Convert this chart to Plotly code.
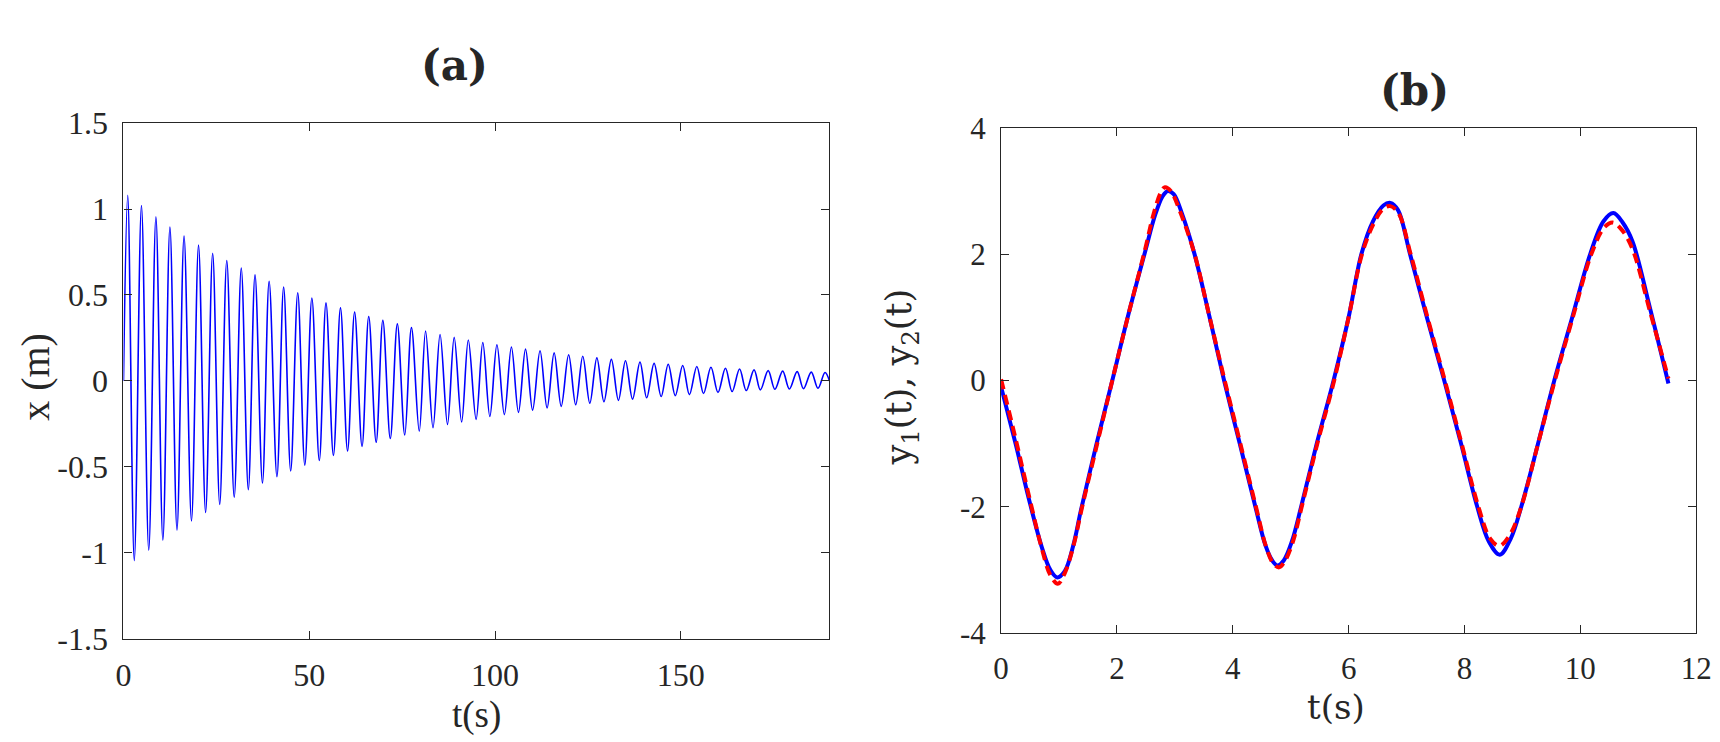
import plotly.graph_objects as go

# ----------------------------------------------------------------------
#  Panel (a): decaying oscillation x(t) -- extrema
PEAK_T = [1.14, 4.84, 8.73, 12.5, 16.3, 20.2, 24.0, 27.8, 31.7, 35.4,
          39.2, 43.1, 46.9, 50.7, 54.5, 58.4, 62.2, 66.0, 69.8, 73.7,
          77.5, 81.3, 85.2, 89.0, 92.8, 96.7, 100.5, 104.4, 108.2, 112.1,
          115.9, 119.8, 123.6, 127.4, 131.3, 135.1, 139.0, 142.8, 146.6, 150.5,
          154.3, 158.1, 162.0, 165.8, 169.7, 173.5, 177.4, 181.3, 185.1, 188.8]
PEAK_X = [1.08, 1.02, 0.955, 0.895, 0.842, 0.79, 0.743, 0.70, 0.657, 0.617,
          0.58, 0.546, 0.513, 0.482, 0.454, 0.425, 0.40, 0.375, 0.353, 0.332,
          0.31, 0.29, 0.27, 0.253, 0.238, 0.223, 0.21, 0.197, 0.185, 0.175,
          0.163, 0.152, 0.143, 0.134, 0.125, 0.117, 0.109, 0.102, 0.097, 0.09,
          0.084, 0.079, 0.074, 0.069, 0.064, 0.06, 0.057, 0.054, 0.051, 0.049]
TROUGH_T = [2.91, 6.8, 10.6, 14.4, 18.3, 22.1, 25.9, 29.8, 33.6, 37.4,
            41.3, 45.0, 48.8, 52.7, 56.5, 60.3, 64.2, 68.0, 71.8, 75.7,
            79.6, 83.3, 87.2, 91.0, 94.9, 98.6, 102.5, 106.3, 110.1, 114.0,
            117.8, 121.7, 125.5, 129.3, 133.2, 137.0, 140.8, 144.7, 148.5, 152.3,
            156.1, 160.0, 163.8, 167.6, 171.4, 175.3, 179.2, 183.0, 186.9]
TROUGH_X = [-1.045, -0.985, -0.926, -0.867, -0.815, -0.765, -0.718, -0.676, -0.633, -0.594,
            -0.557, -0.524, -0.49, -0.463, -0.433, -0.407, -0.381, -0.357, -0.335, -0.315,
            -0.292, -0.272, -0.253, -0.239, -0.224, -0.207, -0.196, -0.183, -0.17, -0.157,
            -0.148, -0.139, -0.13, -0.121, -0.113, -0.106, -0.098, -0.091, -0.086, -0.08,
            -0.073, -0.067, -0.062, -0.056, -0.052, -0.049, -0.047, -0.045, -0.043]
A_START = (0.0, 0.0)
A_END = (190.0, 0.0)

# ----------------------------------------------------------------------
#  Panel (b): y1 (blue solid) and y2 (red dashed)
Y1_T = [0, 0.25, 0.5, 0.7, 0.85, 0.97, 1.1, 1.25, 1.38, 1.65, 1.92, 2.2, 2.49,
        2.66, 2.79, 2.88, 2.98, 3.12, 3.34, 3.6, 3.85, 4.12, 4.39, 4.56, 4.68,
        4.77, 4.88, 5.02, 5.18, 5.45, 5.74, 6.0, 6.22, 6.42, 6.6, 6.72, 6.85,
        7.06, 7.35, 7.65, 7.94, 8.22, 8.42, 8.61, 8.8, 8.98, 9.27, 9.55, 9.86,
        10.17, 10.4, 10.57, 10.73, 10.9, 11.2, 11.52]
Y1 = [-0.1, -1.0, -1.95, -2.63, -3.0, -3.12, -3.02, -2.6, -2.05, -1.0, 0.0, 1.05, 2.05,
      2.62, 2.92, 3.0, 2.95, 2.65, 2.0, 1.0, 0.0, -1.0, -2.0, -2.6, -2.85,
      -2.93, -2.85, -2.55, -2.0, -1.0, 0.0, 1.0, 2.0, 2.52, 2.77, 2.81, 2.7,
      2.0, 1.0, 0.0, -1.0, -2.0, -2.55, -2.76, -2.5, -2.0, -1.0, 0.0, 1.0,
      2.0, 2.52, 2.65, 2.5, 2.2, 1.15, -0.05]

Y2_T = [0, 0.25, 0.5, 0.7, 0.85, 0.98, 1.1, 1.25, 1.4, 1.66, 1.92, 2.2, 2.48,
        2.64, 2.76, 2.83, 2.93, 3.1, 3.34, 3.6, 3.86, 4.13, 4.4, 4.57, 4.7,
        4.8, 4.9, 5.04, 5.19, 5.46, 5.75, 6.0, 6.23, 6.44, 6.6, 6.72, 6.86,
        7.07, 7.36, 7.66, 7.95, 8.24, 8.44, 8.6, 8.78, 8.98, 9.27, 9.56, 9.87,
        10.19, 10.41, 10.56, 10.72, 10.9, 11.2, 11.52]
Y2 = [0.02, -0.92, -1.9, -2.65, -3.08, -3.22, -3.05, -2.62, -2.0, -1.0, 0.0, 1.05, 2.05,
      2.66, 2.98, 3.06, 3.0, 2.65, 2.0, 1.0, 0.0, -1.0, -2.0, -2.62, -2.9,
      -2.96, -2.86, -2.55, -2.0, -1.0, 0.0, 1.0, 2.0, 2.5, 2.72, 2.76, 2.65,
      2.0, 1.0, 0.0, -1.0, -2.0, -2.5, -2.62, -2.45, -2.0, -1.0, 0.0, 1.0,
      2.0, 2.42, 2.5, 2.38, 2.08, 1.1, 0.03]

# ticks (MATLAB-style hyphen minus)
A_XTICKS = [0, 50, 100, 150]
A_YTICKS = [-1.5, -1, -0.5, 0, 0.5, 1, 1.5]
A_YTEXT = ["-1.5", "-1", "-0.5", "0", "0.5", "1", "1.5"]
B_XTICKS = [0, 2, 4, 6, 8, 10, 12]
B_YTICKS = [-4, -2, 0, 2, 4]
B_YTEXT = ["-4", "-2", "0", "2", "4"]

W, H = 1720, 742
AXC = "#262626"
TICKFONT = "Liberation Serif"
LABFONT = "DejaVu Serif"

# merge extrema of panel (a) in time order
pts = sorted([A_START, A_END] + list(zip(PEAK_T, PEAK_X)) + list(zip(TROUGH_T, TROUGH_X)))
ta = [p[0] for p in pts]
xa = [p[1] for p in pts]

fig = go.Figure()
fig.add_trace(go.Scatter(x=ta, y=xa, mode="lines", xaxis="x", yaxis="y",
                         line=dict(color="#0000ff", width=1.6, shape="spline"),
                         showlegend=False))
fig.add_trace(go.Scatter(x=Y1_T, y=Y1, mode="lines", xaxis="x2", yaxis="y2",
                         line=dict(color="#0000ff", width=4, shape="spline"),
                         showlegend=False))
fig.add_trace(go.Scatter(x=Y2_T, y=Y2, mode="lines", xaxis="x2", yaxis="y2",
                         line=dict(color="#ff0000", width=4, dash="10px,6px", shape="spline"),
                         showlegend=False))


def axis_style(size):
    return dict(showgrid=False, zeroline=False, showline=True, linecolor=AXC,
                linewidth=1.2, mirror="ticks", ticks="inside", ticklen=8,
                tickcolor=AXC, tickwidth=1.2, ticklabelstandoff=8,
                tickfont=dict(family=TICKFONT, size=size, color="#262626"))


fig.update_layout(
    width=W, height=H,
    margin=dict(l=0, r=0, t=0, b=0),
    paper_bgcolor="white", plot_bgcolor="white",
    xaxis=dict(domain=[109 / W, 825 / W], range=[0, 190], anchor="y",
               tickvals=A_XTICKS, ticktext=[str(v) for v in A_XTICKS], **axis_style(32)),
    yaxis=dict(domain=[1 - 644 / H, 1 - 102 / H], range=[-1.5, 1.5], anchor="x",
               tickvals=A_YTICKS, ticktext=A_YTEXT, **axis_style(32)),
    xaxis2=dict(domain=[999 / W, 1704 / W], range=[0, 12], anchor="y2",
                tickvals=B_XTICKS, ticktext=[str(v) for v in B_XTICKS], **axis_style(31)),
    yaxis2=dict(domain=[1 - 638 / H, 1 - 107 / H], range=[-4, 4], anchor="x2",
                tickvals=B_YTICKS, ticktext=B_YTEXT, **axis_style(31)),
)

ann = [
    dict(text="<b>(a)</b>", x=445 / W, y=1 - 42 / H, font=dict(family=LABFONT, size=42)),
    dict(text="<b>(b)</b>", x=1418 / W, y=1 - 68 / H, font=dict(family=LABFONT, size=42)),
    dict(text="x (m)", x=19 / W, y=1 - 369 / H, textangle=-90,
         font=dict(family=TICKFONT, size=40)),
    dict(text="t(s)", x=467 / W, y=1 - 724 / H, font=dict(family=TICKFONT, size=37)),
    dict(text="t(s)", x=1339 / W, y=1 - 716 / H, font=dict(family=LABFONT, size=34)),
    dict(text="y<sub>1</sub>(t), y<sub>2</sub>(t)", x=898 / W, y=1 - 369 / H, textangle=-90,
         font=dict(family=LABFONT, size=35)),
]
for a in ann:
    a["font"]["color"] = "#262626"
    fig.add_annotation(xref="paper", yref="paper", xanchor="center", yanchor="middle",
                       showarrow=False, **a)

fig.write_html("out.html")
